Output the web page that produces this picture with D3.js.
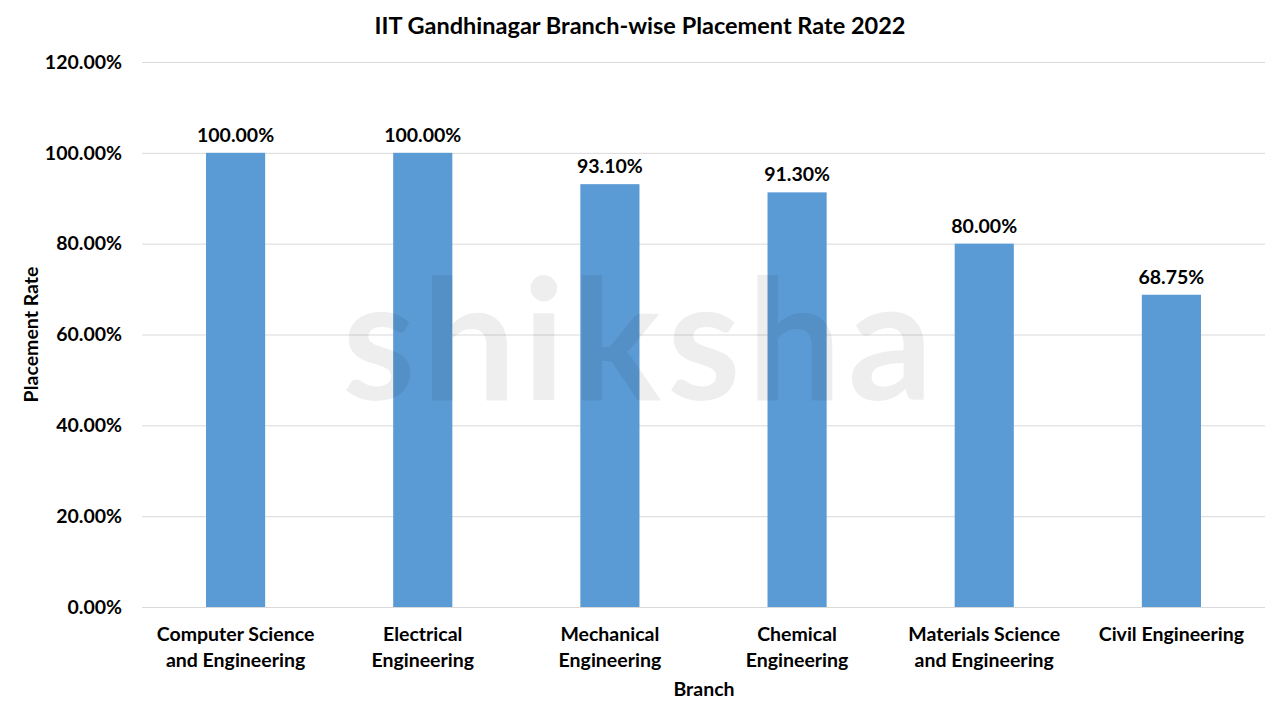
<!DOCTYPE html>
<html>
<head>
<meta charset="utf-8">
<script src="https://cdn.jsdelivr.net/npm/d3@7"></script>
<style>
  body { margin: 0; background: #fff; }
  text { font-family: Lato, "Open Sans", sans-serif; font-weight: bold; fill: #000; }
  .grid line { stroke: #d9d9d9; stroke-width: 1; }
  .grid path { display: none; }
</style>
</head>
<body>
<div id="chart"></div>
<script>
var branches = [
  ["Computer Science", "and Engineering"],
  ["Electrical", "Engineering"],
  ["Mechanical", "Engineering"],
  ["Chemical", "Engineering"],
  ["Materials Science", "and Engineering"],
  ["Civil Engineering"]
];
var rates = [100.00, 100.00, 93.10, 91.30, 80.00, 68.75];
var yTicks = [0, 20, 40, 60, 80, 100, 120];

var width = 1280, height = 720;
var margin = {top: 62, right: 15, bottom: 113, left: 142};

var svg = d3.select("#chart").append("svg")
  .attr("width", width).attr("height", height);

var x = d3.scaleBand()
  .domain(d3.range(rates.length))
  .range([margin.left, width - margin.right])
  .paddingInner(0.684)
  .paddingOuter(0.342);

var y = d3.scaleLinear()
  .domain([0, 120])
  .range([height - margin.bottom, margin.top]);

// gridlines
svg.append("g").attr("class", "grid")
  .attr("transform", "translate(" + margin.left + ",0)")
  .call(d3.axisLeft(y).tickValues(yTicks).tickSize(-(width - margin.left - margin.right)).tickFormat(""));

// y tick labels
svg.append("g").selectAll("text")
  .data(yTicks).enter()
  .append("text")
  .attr("x", 122)
  .attr("y", function(d) { return y(d); })
  .attr("dy", "0.35em")
  .attr("text-anchor", "end")
  .style("font-size", "19.5px")
  .text(function(d) { return d.toFixed(2) + "%"; });

// bars
svg.append("g").selectAll("rect")
  .data(rates).enter()
  .append("rect")
  .attr("x", function(d, i) { return x(i); })
  .attr("y", function(d) { return y(d); })
  .attr("width", x.bandwidth())
  .attr("height", function(d) { return y(0) - y(d); })
  .attr("fill", "#5b9bd5");

// watermark
svg.append("text")
  .attr("x", 342).attr("y", 400)
  .style("font-size", "168px")
  .style("letter-spacing", "6px")
  .style("fill", "rgba(0,0,0,0.065)")
  .text("shiksha");

// value labels
svg.append("g").selectAll("text")
  .data(rates).enter()
  .append("text")
  .attr("x", function(d, i) { return x(i) + x.bandwidth() / 2; })
  .attr("y", function(d) { return y(d) - 11; })
  .attr("text-anchor", "middle")
  .style("font-size", "19.5px")
  .text(function(d) { return d.toFixed(2) + "%"; });

// category labels
var cat = svg.append("g").selectAll("text")
  .data(branches).enter()
  .append("text")
  .attr("x", function(d, i) { return x(i) + x.bandwidth() / 2; })
  .attr("y", 641)
  .attr("text-anchor", "middle")
  .style("font-size", "19.5px");
cat.selectAll("tspan")
  .data(function(d) { return d; }).enter()
  .append("tspan")
  .attr("x", function() { return d3.select(this.parentNode).attr("x"); })
  .attr("dy", function(d, i) { return i === 0 ? 0 : 26; })
  .text(function(d) { return d; });

// title
svg.append("text")
  .attr("x", 640).attr("y", 34)
  .attr("text-anchor", "middle")
  .style("font-size", "23.5px")
  .text("IIT Gandhinagar Branch-wise Placement Rate 2022");

// axis titles
svg.append("text")
  .attr("x", 704).attr("y", 696)
  .attr("text-anchor", "middle")
  .style("font-size", "19.5px")
  .text("Branch");

svg.append("text")
  .attr("transform", "translate(38," + y(60) + ") rotate(-90)")
  .attr("text-anchor", "middle")
  .style("font-size", "19.5px")
  .text("Placement Rate");
</script>
</body>
</html>
